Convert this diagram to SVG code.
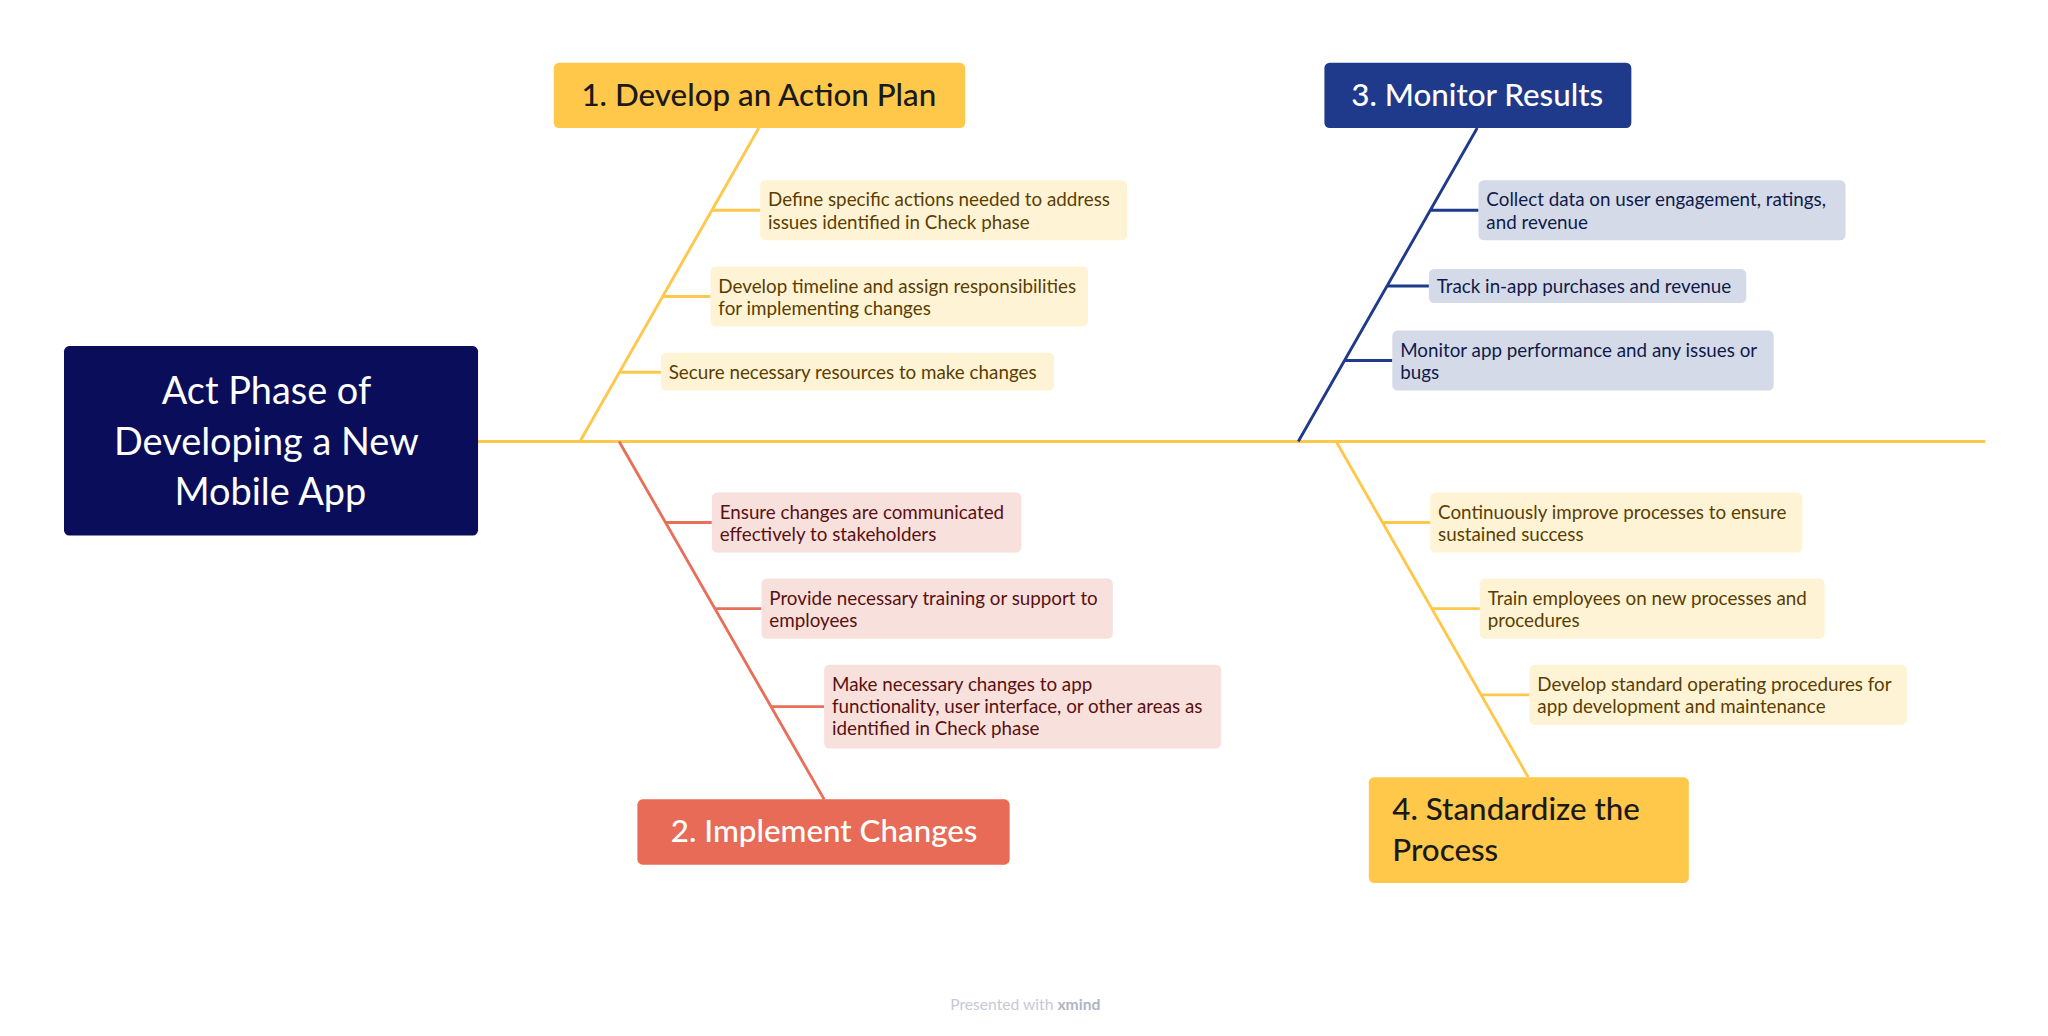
<svg xmlns="http://www.w3.org/2000/svg" width="2048" height="1036" viewBox="0 0 2048 1036">
<style>
text{font-family:Lato,"Open Sans","Liberation Sans",sans-serif}
.s{font-size:14.4px}
.h{font-size:24px;font-weight:500}
.y{fill:#FFF3D6}.yt{fill:#5A3E00}
.b{fill:#D5DAE8}.bt{fill:#0F1A4A}
.r{fill:#F8E0DC}.rt{fill:#5A1010}
.ly{stroke:#FFC84A;stroke-width:2.2;fill:none}
.lb{stroke:#1F3A8A;stroke-width:2.2;fill:none}
.lr{stroke:#E8705A;stroke-width:2.2;fill:none}
</style>
<rect width="2048" height="1036" fill="#fff"/>
<g transform="scale(1.30612)">
<g id="connectors">
<path class="ly" d="M366 338H1520"/>
<path class="ly" d="M581 98L444 338M545 161H582M507 227H544M474 285H506"/>
<path class="lb" d="M1131 98L994 338M1095 161H1132M1062 219H1094M1029 276H1066"/>
<path class="lr" d="M474 338L631 612M510 400H545M547 466H583M590 541H631"/>
<path class="ly" d="M1023 338L1170 595M1058 400H1095M1096 466H1133M1134 532H1171"/>
</g>
<g id="center">
<rect x="49" y="265" width="317" height="145" rx="4" fill="#0A0E5A"/>
<text x="204" y="309" font-size="29" fill="#fff" text-anchor="middle">Act Phase of</text>
<text x="204" y="348" font-size="29" fill="#fff" text-anchor="middle">Developing a New</text>
<text x="207" y="387" font-size="29" fill="#fff" text-anchor="middle">Mobile App</text>
</g>
<g id="b1">
<rect x="424" y="48" width="315" height="50" rx="4" fill="#FFC84A"/>
<text class="h" x="581" y="81" text-anchor="middle" fill="#1a1a1a">1. Develop an Action Plan</text>
</g>
<g id="b1a"><rect class="y" x="582" y="138" width="281" height="46" rx="4"/><text class="s yt" x="588" y="158">Define specific actions needed to address</text><text class="s yt" x="588" y="175">issues identified in Check phase</text></g>
<g id="b1b"><rect class="y" x="544" y="204" width="289" height="46" rx="4"/><text class="s yt" x="550" y="224">Develop timeline and assign responsibilities</text><text class="s yt" x="550" y="241">for implementing changes</text></g>
<g id="b1c"><rect class="y" x="506" y="270" width="301" height="29" rx="4"/><text class="s yt" x="512" y="290">Secure necessary resources to make changes</text></g>
<g id="b3">
<rect x="1014" y="48" width="235" height="50" rx="4" fill="#1F3A8A"/>
<text class="h" x="1131" y="81" text-anchor="middle" fill="#fff">3. Monitor Results</text>
</g>
<g id="b3a"><rect class="b" x="1132" y="138" width="281" height="46" rx="4"/><text class="s bt" x="1138" y="158">Collect data on user engagement, ratings,</text><text class="s bt" x="1138" y="175">and revenue</text></g>
<g id="b3b"><rect class="b" x="1094" y="206" width="243" height="26" rx="4"/><text class="s bt" x="1100" y="224">Track in-app purchases and revenue</text></g>
<g id="b3c"><rect class="b" x="1066" y="253" width="292" height="46" rx="4"/><text class="s bt" x="1072" y="273">Monitor app performance and any issues or</text><text class="s bt" x="1072" y="290">bugs</text></g>
<g id="b2">
<rect x="488" y="612" width="285" height="50" rx="4" fill="#E76B56"/>
<text class="h" x="631" y="645" text-anchor="middle" fill="#fff">2. Implement Changes</text>
</g>
<g id="b2a"><rect class="r" x="545" y="377" width="237" height="46" rx="4"/><text class="s rt" x="551" y="397">Ensure changes are communicated</text><text class="s rt" x="551" y="414">effectively to stakeholders</text></g>
<g id="b2b"><rect class="r" x="583" y="443" width="269" height="46" rx="4"/><text class="s rt" x="589" y="463">Provide necessary training or support to</text><text class="s rt" x="589" y="480">employees</text></g>
<g id="b2c"><rect class="r" x="631" y="509" width="304" height="64" rx="4"/><text class="s rt" x="637" y="529">Make necessary changes to app</text><text class="s rt" x="637" y="546">functionality, user interface, or other areas as</text><text class="s rt" x="637" y="563">identified in Check phase</text></g>
<g id="b4">
<rect x="1048" y="595" width="245" height="81" rx="4" fill="#FFC84A"/>
<text class="h" x="1066" y="628" fill="#1a1a1a">4. Standardize the</text>
<text class="h" x="1066" y="659" fill="#1a1a1a">Process</text>
</g>
<g id="b4a"><rect class="y" x="1095" y="377" width="285" height="46" rx="4"/><text class="s yt" x="1101" y="397">Continuously improve processes to ensure</text><text class="s yt" x="1101" y="414">sustained success</text></g>
<g id="b4b"><rect class="y" x="1133" y="443" width="264" height="46" rx="4"/><text class="s yt" x="1139" y="463">Train employees on new processes and</text><text class="s yt" x="1139" y="480">procedures</text></g>
<g id="b4c"><rect class="y" x="1171" y="509" width="289" height="46" rx="4"/><text class="s yt" x="1177" y="529">Develop standard operating procedures for</text><text class="s yt" x="1177" y="546">app development and maintenance</text></g>
<text x="785" y="773" font-size="12" fill="#C5C9D6" text-anchor="middle">Presented with <tspan font-weight="bold" fill="#AEB4C6">xmind</tspan></text>
</g>
</svg>
